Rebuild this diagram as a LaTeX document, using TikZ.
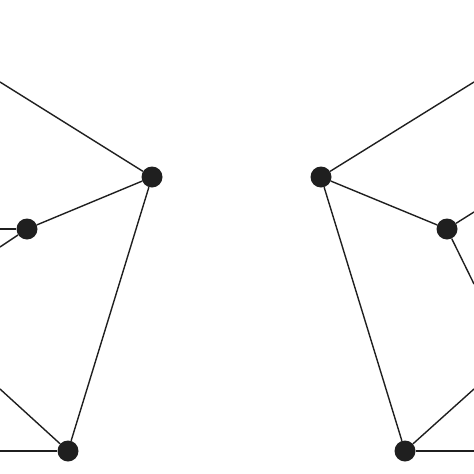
\documentclass[tikz,border=0pt]{standalone}
\usepackage{tikz}

\tikzset{
  vertex/.style={circle, fill=black!88, inner sep=0pt, minimum size=21pt},
  edge/.style={draw=black!88, line width=1.4pt}
}

\begin{document}
\begin{tikzpicture}[x=1pt,y=-1pt]
  \useasboundingbox (0,0) rectangle (474,474);
  \clip (0,0) rectangle (474,474);
  % left part
  \node[vertex] (la) at (152,177) {};
  \node[vertex] (lb) at (27,229) {};
  \node[vertex] (lc) at (68,451) {};
  \coordinate (l1) at (0,82);
  \coordinate (l2) at (0,229);
  \coordinate (l3) at (0,247);
  \coordinate (l4) at (0,389);
  \coordinate (l5) at (0,451);
  \draw[edge] (l1) -- (la);
  \draw[edge] (lb) -- (la);
  \draw[edge] (la) -- (lc);
  \draw[edge] (l2) -- (lb);
  \draw[edge] (l3) -- (lb);
  \draw[edge] (l4) -- (lc);
  \draw[edge] (l5) -- (lc);
  % right part
  \node[vertex] (ra) at (321,177) {};
  \node[vertex] (rb) at (447,229) {};
  \node[vertex] (rc) at (405,451) {};
  \coordinate (r1) at (474,82);
  \coordinate (r2) at (474,212);
  \coordinate (r3) at (474,284);
  \coordinate (r4) at (474,389);
  \coordinate (r5) at (474,451);
  \draw[edge] (r1) -- (ra);
  \draw[edge] (ra) -- (rb);
  \draw[edge] (ra) -- (rc);
  \draw[edge] (rb) -- (r2);
  \draw[edge] (rb) -- (r3);
  \draw[edge] (rc) -- (r4);
  \draw[edge] (rc) -- (r5);
\end{tikzpicture}
\end{document}
